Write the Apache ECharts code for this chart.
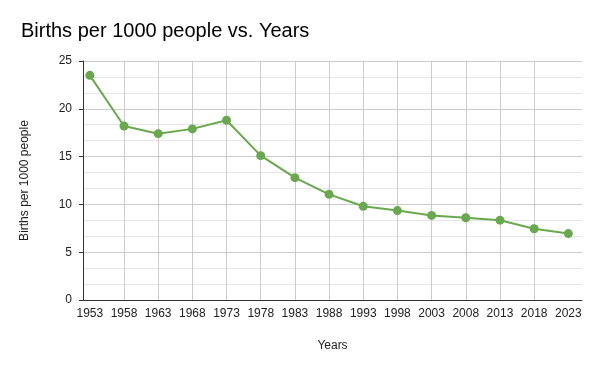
<!DOCTYPE html>
<html><head><meta charset="utf-8">
<script src="https://cdn.jsdelivr.net/npm/echarts@6/dist/echarts.min.js"></script>
<style>html,body{margin:0;padding:0;background:#fff}#c{width:600px;height:371px}</style>
</head><body><div id="c"></div>
<script>
const years = [1953,1958,1963,1968,1973,1978,1983,1988,1993,1998,2003,2008,2013,2018,2023];
const births = [23.5,18.2,17.4,17.9,18.8,15.1,12.8,11.05,9.8,9.35,8.85,8.6,8.35,7.45,6.95];
const yTicks = [0,5,10,15,20,25];
const titleText = 'Births per 1000 people vs. Years';
const xName = 'Years';
const yName = 'Births per 1000 people';

const chart = echarts.init(document.getElementById('c'), null, {renderer:'canvas'});
chart.setOption({
  animation:false,
  backgroundColor:'#fff',
  title:{text:titleText,left:21,top:21,padding:0,textStyle:{fontFamily:'Arial, Liberation Sans',fontSize:20,fontWeight:'normal',color:'#000'}},
  grid:{left:83,right:18,top:61,bottom:71,containLabel:false},
  xAxis:{
    type:'value',min:1952,max:2025,
    name:xName,nameLocation:'middle',nameGap:40,
    nameTextStyle:{fontFamily:'Arial, Liberation Sans',fontSize:12,color:'#222'},
    axisLine:{show:true,lineStyle:{color:'#333',width:1}},
    axisTick:{show:false,customValues:years},
    axisLabel:{customValues:years,fontFamily:'Arial, Liberation Sans',fontSize:12,color:'#222',margin:8,formatter:v=>String(v)},
    splitLine:{show:true,showMinLine:false,showMaxLine:false,lineStyle:{color:'#ccc',width:1}}
  },
  yAxis:{
    type:'value',min:0,max:25,interval:5,
    name:yName,nameLocation:'middle',nameGap:52,nameRotate:90,
    nameTextStyle:{fontFamily:'Arial, Liberation Sans',fontSize:12,color:'#222'},
    axisLine:{show:true,lineStyle:{color:'#333',width:1}},
    axisTick:{show:true,length:4,lineStyle:{color:'#333'}},
    axisLabel:{fontFamily:'Arial, Liberation Sans',fontSize:12,color:'#222',margin:11},
    splitLine:{show:true,lineStyle:{color:'#ccc',width:1}},
    minorTick:{show:false,splitNumber:3},
    minorSplitLine:{show:true,lineStyle:{color:'#e6e6e6',width:1}}
  },
  series:[{
    type:'line',
    data:years.map((y,i)=>[y,births[i]]),
    symbol:'circle',symbolSize:9,
    lineStyle:{color:'#6aa84f',width:2},
    itemStyle:{color:'#6aa84f'}
  }]
});
</script></body></html>
